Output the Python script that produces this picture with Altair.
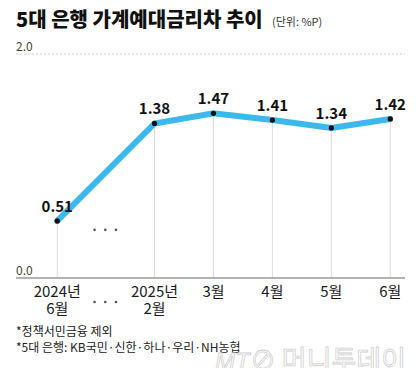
import altair as alt
import pandas as pd

labels1 = ["2024년", "2025년", "3월", "4월", "5월", "6월"]
labels2 = ["6월", "2월", "", "", "", ""]
values = [0.51, 1.38, 1.47, 1.41, 1.34, 1.42]
slots = [0, 1.65, 2.65, 3.65, 4.65, 5.65]
gap_slots = [0.633, 0.815, 0.996]
gap_level = 0.43
y_ticks = [0.0, 2.0]

df = pd.DataFrame({"slot": slots, "value": values, "l1": labels1, "l2": labels2,
                   "txt": [f"{v:.2f}" for v in values]})
gaps = pd.DataFrame({"slot": gap_slots, "value": [gap_level] * 3})
ticks = pd.DataFrame({"t": y_ticks, "lab": [f"{t:.1f}" for t in y_ticks]})

NARROW = "Liberation Sans Narrow, Noto Sans CJK KR"
KR = "Noto Sans CJK KR"

xs = alt.Scale(domain=[-0.7, 5.9], nice=False, zero=False)
ys = alt.Scale(domain=[0, 2], nice=False)
X = alt.X("slot:Q", scale=xs, axis=None)
Y = alt.Y("value:Q", scale=ys, axis=None)

base = alt.Chart(df)

vgrid = base.mark_rule(color="#dcdcdc", strokeWidth=1).encode(
    x=X, y=Y, y2=alt.datum(0))

top_grid = alt.Chart(ticks).transform_filter("datum.t > 0").mark_rule(
    color="#cfcfcf", strokeDash=[2, 2], strokeWidth=1).encode(
    y=alt.Y("t:Q", scale=ys, axis=None), x=alt.value(0), x2=alt.value(389))

baseline = alt.Chart(ticks).transform_filter("datum.t == 0").mark_rule(
    color="#9a9a9a", strokeWidth=1.5).encode(
    y=alt.Y("t:Q", scale=ys, axis=None), x=alt.value(0), x2=alt.value(389))

ylabels = alt.Chart(ticks).mark_text(
    align="left", baseline="middle", dy=-7, font=NARROW, fontSize=12, color="#444").encode(
    y=alt.Y("t:Q", scale=ys, axis=None), x=alt.value(0), text="lab:N")

line = base.mark_line(color="#3db8ec", strokeWidth=6, strokeCap="round").encode(x=X, y=Y)
pts = base.mark_circle(color="#111", size=28, opacity=1).encode(x=X, y=Y)
vlabels = base.mark_text(baseline="alphabetic", dy=-9, font=NARROW, fontSize=15,
                         fontWeight="bold", color="#111").encode(x=X, y=Y, text="txt:N")

gap_up = alt.Chart(gaps).mark_circle(color="#555", size=7, opacity=1).encode(x=X, y=Y)
gap_dn = alt.Chart(gaps).mark_circle(color="#555", size=7, opacity=1).encode(
    x=X, y=alt.value(248))

xl1 = base.mark_text(baseline="middle", font=NARROW, fontSize=15, color="#1a1a1a").encode(
    x=X, y=alt.value(238), text="l1:N")
xl2 = base.mark_text(baseline="middle", font=NARROW, fontSize=15, color="#1a1a1a").encode(
    x=X, y=alt.value(255), text="l2:N")

ann = alt.Chart(pd.DataFrame({"a": [1]}))
title = ann.mark_text(align="left", baseline="alphabetic", font=KR, fontSize=20,
                      fontWeight=900, color="#111", text="5대 은행 가계예대금리차 추이").encode(
    x=alt.value(0), y=alt.value(-27))
unit = ann.mark_text(align="left", baseline="alphabetic", font=KR, fontSize=11,
                     color="#333", text="(단위: %P)").encode(x=alt.value(256), y=alt.value(-28))
fn1 = ann.mark_text(align="left", baseline="middle", font=NARROW, fontSize=12,
                    color="#222", text="*정책서민금융 제외").encode(x=alt.value(0), y=alt.value(278))
fn2 = ann.mark_text(align="left", baseline="middle", font=NARROW, fontSize=12,
                    color="#222", text="*5대 은행: KB국민·신한·하나·우리·NH농협").encode(
    x=alt.value(0), y=alt.value(294))
wm1 = ann.mark_text(align="left", baseline="alphabetic", font="Liberation Sans", fontSize=24,
                    fontStyle="italic", fill="white", stroke="#cfcfcf", strokeWidth=0.8,
                    text="MT").encode(x=alt.value(199), y=alt.value(316))
wm2 = ann.mark_text(align="left", baseline="alphabetic", font=KR, fontSize=26,
                    fill="white", stroke="#cfcfcf", strokeWidth=0.8,
                    text="⊘").encode(x=alt.value(234), y=alt.value(316))
wm3 = ann.mark_text(align="right", baseline="alphabetic", font=KR, fontSize=27,
                    fill="white", stroke="#cfcfcf", strokeWidth=0.8,
                    text="머니투데이").encode(x=alt.value(390), y=alt.value(316))

chart = alt.layer(
    vgrid, top_grid, baseline, ylabels, line, pts, vlabels, gap_up, gap_dn,
    xl1, xl2, title, unit, fn1, fn2, wm1, wm2, wm3
).properties(
    width=389, height=224,
    autosize=alt.AutoSizeParams(type="none"),
    padding={"left": 8, "top": 46, "right": 7, "bottom": 90},
    background="white",
).configure_view(stroke=None)

chart.save("out.html", embed_options={"renderer": "svg", "actions": False})
